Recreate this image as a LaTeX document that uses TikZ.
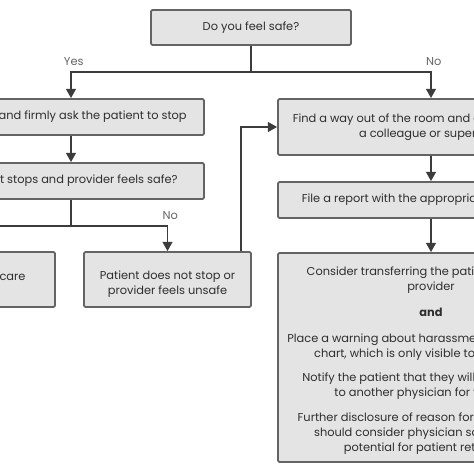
\documentclass[tikz,border=0pt]{standalone}
\usepackage{fontspec}
\setmainfont{Poppins}
\usetikzlibrary{arrows.meta}

\definecolor{boxfill}{HTML}{E4E4E4}
\definecolor{boxline}{HTML}{646464}
\definecolor{wire}{HTML}{3C3C3C}
\definecolor{ink}{HTML}{2E2E2E}

\tikzset{
	box/.style={draw=boxline, fill=boxfill, line width=1.3pt, rounded corners=1pt,
		inner sep=0pt, align=center, text=ink, font=\fontsize{8.1}{10.7}\selectfont},
	txt/.style={inner sep=0pt, align=center, text=ink, font=\fontsize{8.1}{10.7}\selectfont},
	wire/.style={draw=wire, line width=1pt},
	arr/.style={wire, -{Triangle[length=6.5pt, width=7pt]}},
	lbl/.style={text=boxline, font=\fontsize{8.1}{9}\selectfont}
}

\begin{document}
\begin{tikzpicture}[x=0.025cm, y=-0.025cm]
		\useasboundingbox (0,0) rectangle (474,474);
		\clip (0,0) rectangle (474,474);

		\node[box, minimum width=5cm, minimum height=0.875cm] (safe) at (251,27.5) {Do you feel safe?};
		\node[box, minimum width=6.65cm, minimum height=0.9cm] (ask) at (71,117) {Calmly and firmly ask the patient to stop};
		\node[box, minimum width=6.65cm, minimum height=0.9cm] (stops) at (71,181) {Patient stops and provider feels safe?};
		\node[box, minimum width=3.15cm, minimum height=1.375cm] (care) at (-8,279.5) {};
		\node[txt] (caretxt) at (-15,284) {Continue care\\\phantom{x}};
		\node[box, minimum width=4.175cm, minimum height=1.375cm] (unsafe) at (167.5,279.5) {};
		\node[txt] (unsafetxt) at (167.5,284) {Patient does not stop or\\provider feels unsafe};

		\node[box, minimum width=7.65cm, minimum height=1.4cm] (way) at (431,127) {Find a way out of the room and ask for help from\\a colleague or supervisor};
		\node[box, minimum width=7.65cm, minimum height=0.9cm] (report) at (431,200) {File a report with the appropriate department};
		\node[box, minimum width=7.65cm, minimum height=5.225cm] (transfer) at (431,357.5) {};
		\node[txt] (transfertxt) at (431,361) {Consider transferring the patient to another\\provider\\[7.5pt]
			\textbf{and}\\[7.5pt]
			Place a warning about harassment in the patient's\\chart, which is only visible to all providers\\[7pt]
			Notify the patient that they will be transferred\\to another physician for their care\\[7pt]
			Further disclosure of reason for transfer of care\\should consider physician safety and the\\potential for patient retaliation};

		% yes / no split
		\coordinate (split) at (251,72);
		\draw[wire] (safe.south) -- (split);
		\draw[arr] (split) -| (ask.north) node[lbl, pos=0.5, above=1pt, xshift=2pt] {Yes};
		\draw[arr] (split) -| (way.north) node[lbl, pos=0.5, above=1pt, xshift=2pt] {No};

		\draw[arr] (ask) -- (stops);
		\coordinate (split2) at (71,226);
		\draw[wire] (stops.south) -- (split2);
		\draw[arr] (split2) -| (care.north);
		\draw[arr] (split2) -| (unsafe.north) node[lbl, pos=0.5, above=1pt, xshift=2pt] {No};

		\draw[arr] ([xshift=-0.275cm]unsafe.north east) |- (way.west);
		\draw[arr] (way) -- (report);
		\draw[arr] (report) -- (transfer);
	\end{tikzpicture}
\end{document}
